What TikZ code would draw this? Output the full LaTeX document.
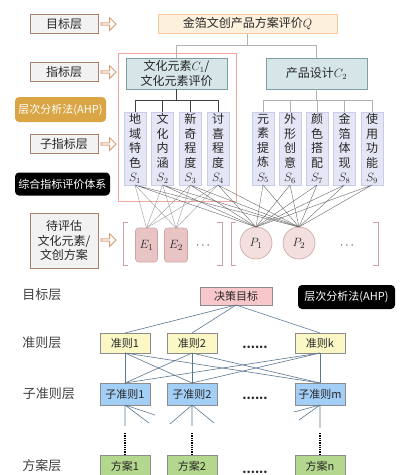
\documentclass[tikz,border=0pt]{standalone}
\usepackage{amsmath}
\usepackage{fontspec}
\newfontfamily\cjk{Noto Sans CJK SC}
\usetikzlibrary{positioning,arrows.meta,shapes.arrows}
\definecolor{lblbrown}{HTML}{A5806A}
\definecolor{arrowor}{HTML}{D9A27A}
\definecolor{goalfill}{HTML}{FDF0DD}
\definecolor{goalline}{HTML}{F3C89B}
\definecolor{cfill}{HTML}{D5E5E8}
\definecolor{cline}{HTML}{7F9FA4}
\definecolor{sfill}{HTML}{E4E6F6}
\definecolor{sline}{HTML}{C9CCEA}
\definecolor{ahpgold}{HTML}{D9A545}
\definecolor{redframe}{HTML}{F2A89E}
\definecolor{efill}{HTML}{E8C4C4}
\definecolor{eline}{HTML}{D3A3A3}
\definecolor{pfill}{HTML}{F4DFDF}
\definecolor{pline}{HTML}{C9A3A3}
\definecolor{dgfill}{HTML}{F7C7CB}
\definecolor{crfill}{HTML}{FBF8C6}
\definecolor{subfill}{HTML}{A3CEF6}
\definecolor{altfill}{HTML}{B3D78C}
\definecolor{bline}{HTML}{5B7690}
\begin{document}
\begin{tikzpicture}[x=1pt,y=-1pt,
  every node/.style={font=\cjk\fontsize{12}{14.5}\selectfont,text=black!85,inner sep=0pt,outer sep=0pt},
  layer/.style={draw=lblbrown,fill=black!5,line width=1pt,minimum width=68pt,minimum height=19pt,align=center},
  hollow/.style={single arrow,draw=arrowor,fill=white,line width=1pt,minimum width=13pt,minimum height=15pt,single arrow head extend=2.5pt},
  cbox/.style={draw=cline,fill=cfill,line width=.8pt,minimum width=101pt,minimum height=31pt,align=center},
  sbox/.style={draw=sline,fill=sfill,line width=.6pt,minimum width=22pt,minimum height=73pt,align=center},
  gold/.style={fill=ahpgold,text=white,rounded corners=4pt,minimum width=91pt,minimum height=25pt,font=\cjk\fontsize{11}{13}\selectfont},
  blackbox/.style={fill=black,text=white,rounded corners=4pt,minimum height=24pt,font=\cjk\fontsize{11}{13}\selectfont},
  brk/.style={draw=pline,line width=.9pt},
  plain/.style={text=black!75,font=\cjk\fontsize{13}{15}\selectfont},
  small/.style={draw=black!45,line width=.6pt,minimum width=50pt,minimum height=20pt,font=\cjk\fontsize{11}{13}\selectfont},
  dots/.style={draw=black,line width=1.4pt,dash pattern=on 1.3pt off 1pt}]
\useasboundingbox (0,0) rectangle (400,475);
\clip (0,0) rectangle (400,475);
\draw[redframe,line width=.8pt] (118,53) rectangle (236,201);
\node[layer] (tl1) at (64,24) {目标层};
\node[hollow] (ar1) at (108,24) {};
\node[draw=goalline,fill=goalfill,line width=.8pt,minimum width=179pt,minimum height=19pt] (q) at (247.5,24) {金箔文创产品方案评价$Q$};
\node[layer] (tl2) at (64,72) {指标层};
\node[hollow] (ar2) at (108,72) {};
\node[cbox] (c1) at (176.5,73.5) {文化元素$C_1$/\\文化元素评价};
\node[cbox] (c2) at (316.5,73.5) {产品设计$C_2$};
\node[gold] (ahp1) at (60.5,109.5) {层次分析法(AHP)};
\node[layer] (tl3) at (64,144) {子指标层};
\node[hollow] (ar3) at (108,144) {};
\foreach \x/\ca/\cb/\cc/\cd[count=\i] in {135/地/域/特/色,162.7/文/化/内/涵,190.3/新/奇/程/度,218/讨/喜/程/度,263/元/素/提/炼,290/外/形/创/意,317/颜/色/搭/配,344.5/金/箔/体/现,372/使/用/功/能}
\node[sbox] (s\i) at (\x,148.5) {\ca\\\cb\\\cc\\\cd\\$S_{\i}$};
\draw[black!30,line width=.8pt] (q.south) -- ++(0,12) -| (c1.north) (q.south) -- ++(0,12) -| (c2.north);
\foreach \i in {1,...,4} \draw[black!75,line width=.8pt] (c1.south) -- ++(0,11) -| (s\i.north);
\foreach \i in {5,...,9} \draw[black!30,line width=.8pt] (c2.south) -- ++(0,11) -| (s\i.north);
\node[blackbox,minimum width=95pt,minimum height=23pt] (zh) at (62.5,184) {综合指标评价体系};
\node[layer,minimum height=55pt] (tl4) at (64,240.5) {待评估\\文化元素/\\文创方案};
\node[hollow] (ar4) at (108,240) {};
\draw[brk] (128,222) -| (123,265) -- (128,265);
\draw[brk] (217,222) -| (222,265) -- (217,265);
\draw[brk] (236,222) -| (231,265) -- (236,265);
\draw[brk] (373,222) -| (378,265) -- (373,265);
\node[draw=eline,fill=efill,line width=.6pt,rounded corners=3pt,minimum width=22pt,minimum height=34pt,font=\fontsize{13}{15}\selectfont] (e1) at (146.5,245) {$E_1$};
\node[draw=eline,fill=efill,line width=.6pt,rounded corners=3pt,minimum width=23pt,minimum height=34pt,font=\fontsize{13}{15}\selectfont] (e2) at (176,245) {$E_2$};
\node (ed) at (204,246) {$\cdots$};
\node[circle,draw=pline,fill=pfill,line width=.6pt,minimum size=32pt,font=\fontsize{13}{15}\selectfont] (p1) at (256,243) {$P_1$};
\node[circle,draw=pline,fill=pfill,line width=.6pt,minimum size=32pt,font=\fontsize{13}{15}\selectfont] (p2) at (299,243) {$P_2$};
\node (pd) at (348,246) {$\cdots$};
\foreach \i in {1,...,4} \draw[black!40,line width=.4pt] (s\i.south) -- (e1.north) (s\i.south) -- (e2.north);
\foreach \i in {1,...,9} \draw[black!60,line width=.4pt] (s\i.south) -- (p1.north) (s\i.south) -- (p2.north);
\node[plain] (l1) at (42,295) {目标层};
\node[small,fill=dgfill,minimum width=72pt,minimum height=18pt] (dg) at (236,296) {决策目标};
\node[blackbox,minimum width=97pt] (ahp2) at (346.5,297) {层次分析法(AHP)};
\node[plain] (l2) at (42,343) {准则层};
\foreach \x/\t[count=\i] in {125/准则1,192/准则2,320/准则k}
\node[small,fill=crfill] (cr\i) at (\x,343) {\t};
\node (crd) at (255,347) {\bfseries......};
\foreach \i in {1,2,3} \draw[bline,line width=.6pt] (dg.south) -- (cr\i.north);
\node[plain] (l3) at (49,394) {子准则层};
\foreach \x/\t[count=\i] in {125/子准则1,192/子准则2,320/子准则m}
\node[small,fill=subfill,minimum height=22pt] (sub\i) at (\x,394) {\t};
\node (subd) at (255,398) {\bfseries......};
\foreach \i in {1,2,3}{\foreach \j in {1,2,3} \draw[bline,line width=.6pt] (cr\i.south) -- (sub\j.north);}
\node[plain] (l4) at (42,466) {方案层};
\foreach \x/\t[count=\i] in {125/方案1,192/方案2,320/方案n}
\node[small,fill=altfill,minimum height=22pt] (alt\i) at (\x,466) {\t};
\node (altd) at (255,472) {\bfseries......};
\draw[bline,line width=.6pt] (sub1.south) -- ++(30,10) (sub1.south) -- ++(24,18) (sub1.south) -- ++(0,21);
\draw[bline,line width=.6pt] (sub2.south) -- ++(-22,19) (sub2.south) -- ++(22,18) (sub2.south) -- ++(0,21);
\draw[bline,line width=.6pt] (sub3.south) -- ++(-26,7) (sub3.south) -- ++(-21,15) (sub3.south) -- ++(0,23);
\foreach \i in {1,2,3} \draw[dots] (alt\i.north) -- ++(0,-22);
\end{tikzpicture}
\end{document}
